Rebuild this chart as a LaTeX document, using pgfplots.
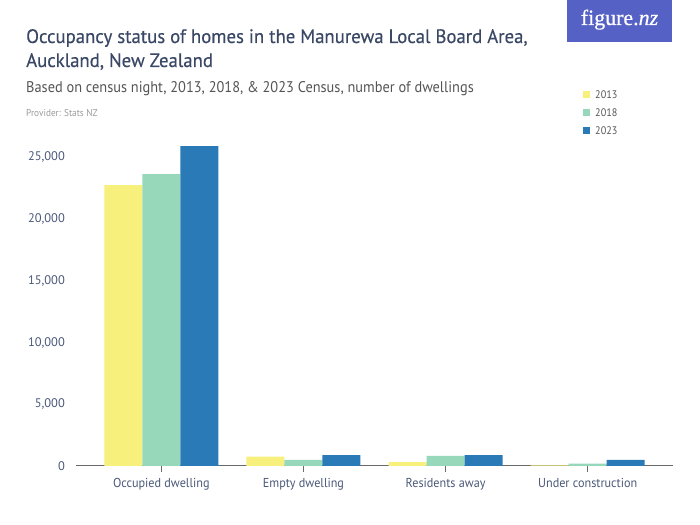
\documentclass[border=0pt]{standalone}
\usepackage{pgfplots}
\pgfplotsset{compat=1.18}
\usepackage{fontspec}
\setmainfont{PT Sans}
\newfontfamily\titlefont[FakeStretch=0.965,FakeBold=0.35]{PT Sans}
\newfontfamily\subfont[FakeStretch=0.93]{PT Sans}
\newfontfamily\labfont[FakeStretch=0.94]{PT Sans}
\newfontfamily\logofont[FakeBold=0.6]{Liberation Serif}

\definecolor{c2013}{HTML}{F8F07C}
\definecolor{c2018}{HTML}{98D8BA}
\definecolor{c2023}{HTML}{2A7AB8}
\definecolor{titlecol}{HTML}{3A4866}
\definecolor{subcol}{HTML}{555555}
\definecolor{provcol}{HTML}{9A9A9A}
\definecolor{tickcol}{HTML}{4A5878}
\definecolor{gridcol}{HTML}{E3E3E3}
\definecolor{axiscol}{HTML}{6A6A6A}
\definecolor{logobg}{HTML}{5661C6}

\begin{document}
\begin{tikzpicture}[x=1bp,y=1bp]
\useasboundingbox (0,0) rectangle (700,525);

% logo
\fill[logobg] (567,483) rectangle (672,525);
\node[anchor=base,text=white,inner sep=0,font=\logofont\fontsize{22}{22}\selectfont] at (619.5,500) {figure.\textit{nz}};

% titles
\node[anchor=base west,inner sep=0,text=titlecol,font=\titlefont\fontsize{19.5}{23}\selectfont] at (26,482) {Occupancy status of homes in the Manurewa Local Board Area,};
\node[anchor=base west,inner sep=0,text=titlecol,font=\titlefont\fontsize{19.5}{23}\selectfont] at (26,458) {Auckland, New Zealand};
\node[anchor=base west,inner sep=0,text=subcol,font=\subfont\fontsize{15.5}{18}\selectfont] at (26,432) {Based on census night, 2013, 2018, \& 2023 Census, number of dwellings};
\node[anchor=base west,inner sep=0,text=provcol,font=\subfont\fontsize{10}{12}\selectfont] at (26,408) {Provider: Stats NZ};

% legend
\foreach \c/\lab/\yy in {c2013/2013/430, c2018/2018/412, c2023/2023/394}{
  \fill[\c] (583,\yy-3.5) rectangle (590,\yy+3.5);
  \node[anchor=west,inner sep=0,text=subcol,font=\subfont\fontsize{11}{13}\selectfont] at (595,\yy+0.5) {\lab};
}

\begin{axis}[
  at={(76bp,59bp)}, anchor=south west,
  scale only axis,
  width=597bp, height=327.2bp,
  xmin=-0.6, xmax=3.6,
  ymin=0, ymax=26500,
  axis y line=none,
  axis x line*=bottom,
  x axis line style={draw=axiscol,line width=1pt,-},
  xtick={0,1,2,3},
  xticklabels={Occupied dwelling,Empty dwelling,Residents away,Under construction},
  xtick style={draw=axiscol,line width=0.8pt},
  xtick align=outside,
  major tick length=6bp,
  x tick label style={text=tickcol,font=\labfont\fontsize{13}{15}\selectfont,yshift=-3bp},
  ytick={0,5000,10000,15000,20000,25000},
  ymajorgrids,
  y grid style={draw=gridcol,line width=1pt},
  yticklabels={},
  ybar=0pt,
  bar width=38bp,
  clip=false,
]
\addplot[fill=c2013,draw=none] coordinates {(0,22750) (1,750) (2,320) (3,50)};
\addplot[fill=c2018,draw=none] coordinates {(0,23640) (1,490) (2,810) (3,190)};
\addplot[fill=c2023,draw=none] coordinates {(0,25910) (1,890) (2,880) (3,490)};
\foreach \v/\lab in {0/0,5000/{5,000},10000/{10,000},15000/{15,000},20000/{20,000},25000/{25,000}}{
  \edef\temp{\noexpand\node[anchor=east,inner sep=0,text=tickcol,font=\noexpand\fontsize{12.5}{14}\noexpand\selectfont] at (axis cs:-0.6,\v) [xshift=-11bp] {\lab};}
  \temp
}
\end{axis}
\end{tikzpicture}
\end{document}
